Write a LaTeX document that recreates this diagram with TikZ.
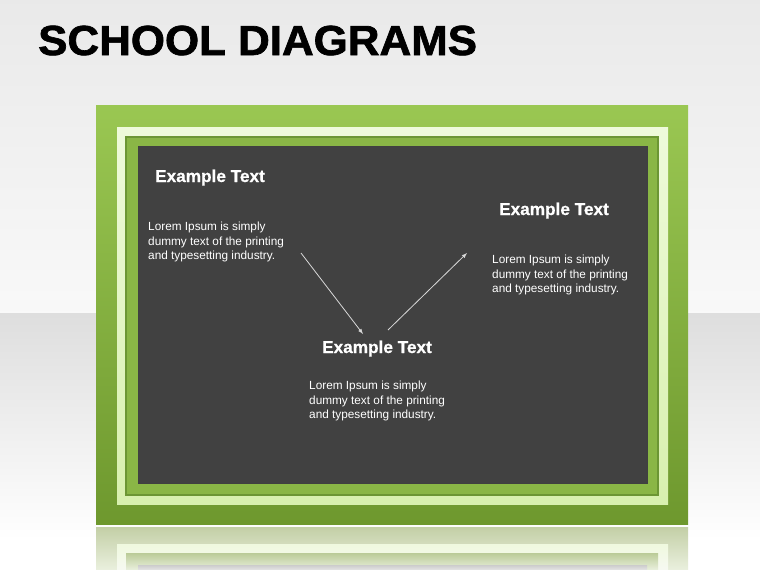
\documentclass[tikz,border=0pt]{standalone}
\usepackage{fontspec}
\setmainfont{Liberation Sans}
\newfontfamily\heavyfont{Liberation Sans}[FakeBold=1.6]
\newfontfamily\headfont{Liberation Sans}[FakeBold=0.7]
\usetikzlibrary{arrows,positioning}
\definecolor{greenTop}{HTML}{9AC752}
\definecolor{greenBot}{HTML}{6E982E}
\definecolor{paleTop}{HTML}{EEFADA}
\definecolor{paleBot}{HTML}{D8F0AE}
\definecolor{bandGreen}{HTML}{8AB646}
\definecolor{bandEdge}{HTML}{6C9634}
\definecolor{boardGray}{HTML}{414141}
\definecolor{mirrorTop}{HTML}{C3CFA6}
\definecolor{mirrorBot}{HTML}{EAF0DE}

\begin{document}
\begin{tikzpicture}[x=1pt,y=-1pt,
    heading/.style={text=white, font=\headfont\bfseries\fontsize{17.2}{20}\selectfont, inner sep=0pt, anchor=base},
    lorem/.style={text=white, font=\fontsize{11.8}{14.5}\selectfont, align=left, inner sep=0pt, anchor=north west},
    pointer/.style={->, >=latex, draw=gray!30, line width=0.8pt}]
    \useasboundingbox (0,0) rectangle (760,570);

    % background
    \fill[top color=gray!17, bottom color=gray!5] (0,0) rectangle (760,313);
    \fill[top color=gray!26, bottom color=white] (0,313) rectangle (760,540);
    \fill[white] (0,540) rectangle (760,570);

    % frame
    \fill[top color=greenTop, bottom color=greenBot] (96,105) rectangle (688,524);
    \fill[top color=paleTop, bottom color=paleBot] (117,127) rectangle (668,504);
    \filldraw[fill=bandGreen, draw=bandEdge, line width=1.5pt] (126,137) rectangle (658,495);
    \filldraw[fill=boardGray, draw=black!75, line width=1pt] (138,146) rectangle (647,483);

    % reflection
    \fill[top color=mirrorTop, bottom color=mirrorBot] (96,527) rectangle (688,570);
    \fill[top color=white!60!paleBot, bottom color=white!60!mirrorBot] (117,544) rectangle (668,570);
    \fill[top color=mirrorTop!85!bandGreen, bottom color=mirrorBot] (126,553) rectangle (658,570);
    \fill[top color=gray!40, bottom color=gray!20] (138,565) rectangle (647,570);

    \node[anchor=base west, inner sep=0pt, font=\heavyfont\bfseries\fontsize{42}{46}\selectfont] (T) at (38,55) {\scalebox{1.045}[1]{SCHOOL DIAGRAMS}};

    \node[heading] (A) at (210,182) {Example Text};
    \node[lorem] (A1) at (148,222) {Lorem Ipsum is simply\\dummy text of the printing\\and typesetting industry.};

    \node[heading] (B) at (554,215) {Example Text};
    \node[lorem] (B1) at (492,255) {Lorem Ipsum is simply\\dummy text of the printing\\and typesetting industry.};

    \node[heading] (C) at (377,353) {Example Text};
    \node[lorem] (C1) at (309,381) {Lorem Ipsum is simply\\dummy text of the printing\\and typesetting industry.};

    \coordinate (p) at (301,253);
    \coordinate (q) at (363,334);
    \coordinate (r) at (388,330);
    \coordinate (s) at (467,253);

    \draw[pointer] (p) -- (q);
    \draw[pointer] (r) -- (s);
\end{tikzpicture}
\end{document}
